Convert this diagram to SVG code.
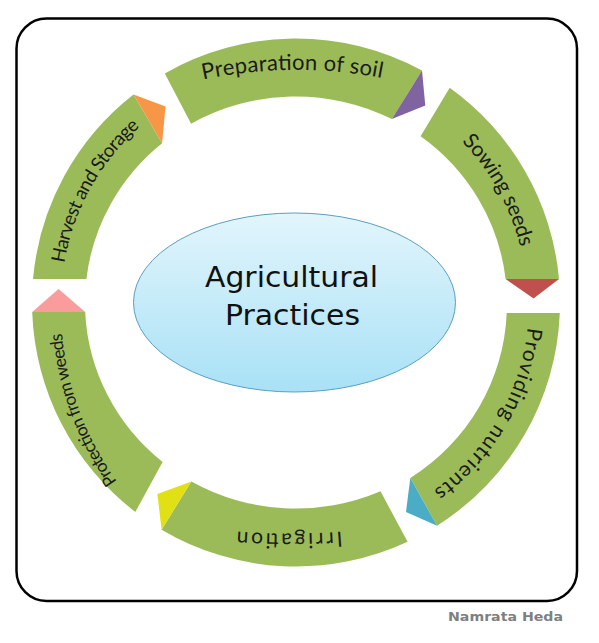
<svg xmlns="http://www.w3.org/2000/svg" xmlns:xlink="http://www.w3.org/1999/xlink" width="599" height="643" viewBox="0 0 599 643">
<style>
.seg{fill:#9BBB59;}
.lbl{font-family:Lato,"Open Sans","Liberation Sans",sans-serif;fill:#1a1a1a;}
.ctr{font-family:"DejaVu Sans","Liberation Sans",sans-serif;font-size:29px;fill:#111;text-anchor:middle;}
</style>
<defs>
<linearGradient id="eg" x1="0" y1="0" x2="0" y2="1">
<stop offset="0" stop-color="#e2f5fc"/>
<stop offset="1" stop-color="#a9e1f6"/>
</linearGradient>
<path id="tp1" d="M183,84.4 A450,450 0 0 1 402,82.4"/>
<path id="tp2" d="M378.8,86.8 A231,231 0 0 1 522.8,346.6"/>
<path id="tp3" d="M525.5,262 A233,233 0 0 1 375.7,521.4"/>
<path id="tp4" d="M359.5,530 A700,700 0 0 1 219.5,530"/>
<path id="tp5" d="M129.3,497.4 A300,300 0 0 1 60.8,313.2"/>
<path id="tp6" d="M65.3,347.3 A235,235 0 0 1 211.8,83.1"/>
</defs>
<rect width="599" height="643" fill="#ffffff"/>
<rect id="frame" x="16.5" y="18.5" width="560.5" height="582.5" rx="30" fill="none" stroke="#000" stroke-width="2.5"/>

<g id="node-preparation">
<path class="seg" d="M164.8,73.4 A264,264 0 0 1 422,70.5 L391.8,119 A211,206 0 0 0 191.1,123.7 Z"/>
<text class="lbl" font-size="22"><textPath xlink:href="#tp1" href="#tp1" startOffset="50%" text-anchor="middle" textLength="180">Preparation of soil</textPath></text>
</g>
<g id="node-sowing">
<path class="seg" d="M449.7,87.8 A264,264 0 0 1 559,279 L505.6,279 A211,206 0 0 0 420.6,136.3 Z"/>
<text class="lbl" font-size="21"><textPath xlink:href="#tp2" href="#tp2" startOffset="50%" text-anchor="middle" textLength="122">Sowing seeds</textPath></text>
</g>
<g id="node-nutrients">
<path class="seg" d="M559.8,313 A264,264 0 0 1 437.1,525.7 L410.3,478 A211,206 0 0 0 506.7,313 Z"/>
<text class="lbl" font-size="21"><textPath xlink:href="#tp3" href="#tp3" startOffset="50%" text-anchor="middle" textLength="194">Providing nutrients</textPath></text>
</g>
<g id="node-irrigation">
<path class="seg" d="M407.6,541.8 A264,264 0 0 1 161.6,529.7 L191.4,481.4 A211,206 0 0 0 380.5,491.3 Z"/>
<text class="lbl" font-size="21"><textPath xlink:href="#tp4" href="#tp4" startOffset="50%" text-anchor="middle" textLength="105">Irrigation</textPath></text>
</g>
<g id="node-protection">
<path class="seg" d="M135.3,512 A264,264 0 0 1 32.2,312 L85.2,312 A211,206 0 0 0 162.6,462.1 Z"/>
<text class="lbl" font-size="17.5"><textPath xlink:href="#tp5" href="#tp5" startOffset="50%" text-anchor="middle" textLength="160">Protection from weeds</textPath></text>
</g>
<g id="node-harvest">
<path class="seg" d="M33,279 A264,264 0 0 1 133.5,94.5 L162.1,143.3 A211,206 0 0 0 86.4,279 Z"/>
<text class="lbl" font-size="19"><textPath xlink:href="#tp6" href="#tp6" startOffset="50%" text-anchor="middle" textLength="159">Harvest and Storage</textPath></text>
</g>

<g id="connectors">
<polygon points="422,70.5 391.8,119 425.3,105.4" fill="#8064A2"/>
<polygon points="559,279 505.6,279 533.5,298.4" fill="#C0504D"/>
<polygon points="437.1,525.7 410.3,478 406,512" fill="#4BACC6"/>
<polygon points="161.6,529.7 191.4,481.4 157.4,494" fill="#E0E015"/>
<polygon points="32.2,312 85.2,312 58.5,289" fill="#FB9C9C"/>
<polygon points="133.5,94.5 162.1,143.3 165.5,106.5" fill="#F79646"/>
</g>

<g id="node-center">
<ellipse cx="294.5" cy="302.5" rx="161" ry="89.5" fill="url(#eg)" stroke="#5a9fc0" stroke-width="1"/>
<text class="ctr" x="291.5" y="287" textLength="173" lengthAdjust="spacingAndGlyphs">Agricultural</text>
<text class="ctr" x="292.5" y="325" textLength="135" lengthAdjust="spacingAndGlyphs">Practices</text>
</g>

<text id="credit" x="448" y="621" font-family="'DejaVu Sans','Liberation Sans',sans-serif" font-size="13" font-weight="bold" fill="#7f7f7f" textLength="115" lengthAdjust="spacingAndGlyphs">Namrata Heda</text>
</svg>
